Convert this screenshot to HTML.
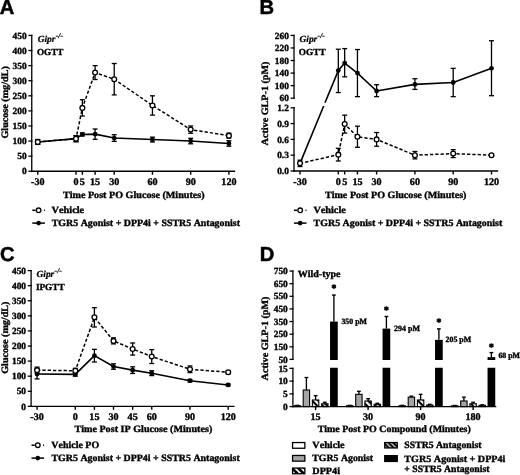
<!DOCTYPE html>
<html><head><meta charset="utf-8"><title>Figure</title>
<style>
html,body{margin:0;padding:0;background:#fff;}
svg{display:block;}
svg text{font-family:"Liberation Serif",serif;font-weight:bold;fill:#000;stroke:#000;stroke-width:0.36px;font-kerning:none;text-rendering:geometricPrecision;}
svg text.pl{font-family:"Liberation Sans",sans-serif;stroke-width:0.5px;}
</style></head>
<body>
<svg width="520" height="475" viewBox="0 0 520 475">
<rect width="520" height="475" fill="#fff"/>
<text x="-0.3" y="14.1" class="pl" font-size="20.2">A</text>
<line x1="31.75" y1="34.80" x2="31.75" y2="171.90" stroke="#000" stroke-width="1.3" />
<line x1="28.35" y1="171.25" x2="32.40" y2="171.25" stroke="#000" stroke-width="1.3" />
<text x="26.65" y="174.40" font-size="9.4" text-anchor="end" >0</text>
<line x1="28.35" y1="156.16" x2="32.40" y2="156.16" stroke="#000" stroke-width="1.3" />
<text x="26.65" y="159.31" font-size="9.4" text-anchor="end" >50</text>
<line x1="28.35" y1="141.07" x2="32.40" y2="141.07" stroke="#000" stroke-width="1.3" />
<text x="26.65" y="144.22" font-size="9.4" text-anchor="end" >100</text>
<line x1="28.35" y1="125.98" x2="32.40" y2="125.98" stroke="#000" stroke-width="1.3" />
<text x="26.65" y="129.13" font-size="9.4" text-anchor="end" >150</text>
<line x1="28.35" y1="110.89" x2="32.40" y2="110.89" stroke="#000" stroke-width="1.3" />
<text x="26.65" y="114.04" font-size="9.4" text-anchor="end" >200</text>
<line x1="28.35" y1="95.81" x2="32.40" y2="95.81" stroke="#000" stroke-width="1.3" />
<text x="26.65" y="98.96" font-size="9.4" text-anchor="end" >250</text>
<line x1="28.35" y1="80.72" x2="32.40" y2="80.72" stroke="#000" stroke-width="1.3" />
<text x="26.65" y="83.87" font-size="9.4" text-anchor="end" >300</text>
<line x1="28.35" y1="65.63" x2="32.40" y2="65.63" stroke="#000" stroke-width="1.3" />
<text x="26.65" y="68.78" font-size="9.4" text-anchor="end" >350</text>
<line x1="28.35" y1="50.54" x2="32.40" y2="50.54" stroke="#000" stroke-width="1.3" />
<text x="26.65" y="53.69" font-size="9.4" text-anchor="end" >400</text>
<line x1="28.35" y1="35.45" x2="32.40" y2="35.45" stroke="#000" stroke-width="1.3" />
<text x="26.65" y="38.60" font-size="9.4" text-anchor="end" >450</text>
<line x1="31.10" y1="171.25" x2="235.20" y2="171.25" stroke="#000" stroke-width="1.3" />
<line x1="37.77" y1="171.25" x2="37.77" y2="174.75" stroke="#000" stroke-width="1.4" />
<text x="37.77" y="184.50" font-size="10.1" text-anchor="middle" >-30</text>
<line x1="76.00" y1="171.25" x2="76.00" y2="174.75" stroke="#000" stroke-width="1.4" />
<text x="76.00" y="184.50" font-size="10.1" text-anchor="middle" >0</text>
<line x1="82.37" y1="171.25" x2="82.37" y2="174.75" stroke="#000" stroke-width="1.4" />
<text x="82.37" y="184.50" font-size="10.1" text-anchor="middle" >5</text>
<line x1="95.11" y1="171.25" x2="95.11" y2="174.75" stroke="#000" stroke-width="1.4" />
<text x="95.11" y="184.50" font-size="10.1" text-anchor="middle" >15</text>
<line x1="114.22" y1="171.25" x2="114.22" y2="174.75" stroke="#000" stroke-width="1.4" />
<text x="114.22" y="184.50" font-size="10.1" text-anchor="middle" >30</text>
<line x1="152.45" y1="171.25" x2="152.45" y2="174.75" stroke="#000" stroke-width="1.4" />
<text x="152.45" y="184.50" font-size="10.1" text-anchor="middle" >60</text>
<line x1="190.68" y1="171.25" x2="190.68" y2="174.75" stroke="#000" stroke-width="1.4" />
<text x="190.68" y="184.50" font-size="10.1" text-anchor="middle" >90</text>
<line x1="228.90" y1="171.25" x2="228.90" y2="174.75" stroke="#000" stroke-width="1.4" />
<text x="228.90" y="184.50" font-size="10.1" text-anchor="middle" >120</text>
<line x1="37.77" y1="144.39" x2="37.77" y2="139.56" stroke="#000" stroke-width="1.3" />
<line x1="35.27" y1="144.39" x2="40.27" y2="144.39" stroke="#000" stroke-width="1.3" />
<line x1="35.27" y1="139.56" x2="40.27" y2="139.56" stroke="#000" stroke-width="1.3" />
<line x1="76.00" y1="141.68" x2="76.00" y2="135.64" stroke="#000" stroke-width="1.3" />
<line x1="73.50" y1="141.68" x2="78.50" y2="141.68" stroke="#000" stroke-width="1.3" />
<line x1="73.50" y1="135.64" x2="78.50" y2="135.64" stroke="#000" stroke-width="1.3" />
<line x1="82.37" y1="116.02" x2="82.37" y2="99.73" stroke="#000" stroke-width="1.3" />
<line x1="79.87" y1="116.02" x2="84.87" y2="116.02" stroke="#000" stroke-width="1.3" />
<line x1="79.87" y1="99.73" x2="84.87" y2="99.73" stroke="#000" stroke-width="1.3" />
<line x1="95.11" y1="79.51" x2="95.11" y2="65.63" stroke="#000" stroke-width="1.3" />
<line x1="92.61" y1="79.51" x2="97.61" y2="79.51" stroke="#000" stroke-width="1.3" />
<line x1="92.61" y1="65.63" x2="97.61" y2="65.63" stroke="#000" stroke-width="1.3" />
<line x1="114.22" y1="94.90" x2="114.22" y2="63.52" stroke="#000" stroke-width="1.3" />
<line x1="111.72" y1="94.90" x2="116.72" y2="94.90" stroke="#000" stroke-width="1.3" />
<line x1="111.72" y1="63.52" x2="116.72" y2="63.52" stroke="#000" stroke-width="1.3" />
<line x1="152.45" y1="115.12" x2="152.45" y2="95.81" stroke="#000" stroke-width="1.3" />
<line x1="149.95" y1="115.12" x2="154.95" y2="115.12" stroke="#000" stroke-width="1.3" />
<line x1="149.95" y1="95.81" x2="154.95" y2="95.81" stroke="#000" stroke-width="1.3" />
<line x1="190.68" y1="133.23" x2="190.68" y2="125.98" stroke="#000" stroke-width="1.3" />
<line x1="188.18" y1="133.23" x2="193.18" y2="133.23" stroke="#000" stroke-width="1.3" />
<line x1="188.18" y1="125.98" x2="193.18" y2="125.98" stroke="#000" stroke-width="1.3" />
<line x1="228.90" y1="138.05" x2="228.90" y2="133.23" stroke="#000" stroke-width="1.3" />
<line x1="226.40" y1="138.05" x2="231.40" y2="138.05" stroke="#000" stroke-width="1.3" />
<line x1="226.40" y1="133.23" x2="231.40" y2="133.23" stroke="#000" stroke-width="1.3" />
<line x1="37.77" y1="144.39" x2="37.77" y2="139.56" stroke="#000" stroke-width="1.3" />
<line x1="35.27" y1="144.39" x2="40.27" y2="144.39" stroke="#000" stroke-width="1.3" />
<line x1="35.27" y1="139.56" x2="40.27" y2="139.56" stroke="#000" stroke-width="1.3" />
<line x1="76.00" y1="141.68" x2="76.00" y2="135.64" stroke="#000" stroke-width="1.3" />
<line x1="73.50" y1="141.68" x2="78.50" y2="141.68" stroke="#000" stroke-width="1.3" />
<line x1="73.50" y1="135.64" x2="78.50" y2="135.64" stroke="#000" stroke-width="1.3" />
<line x1="82.37" y1="135.94" x2="82.37" y2="132.92" stroke="#000" stroke-width="1.3" />
<line x1="79.87" y1="135.94" x2="84.87" y2="135.94" stroke="#000" stroke-width="1.3" />
<line x1="79.87" y1="132.92" x2="84.87" y2="132.92" stroke="#000" stroke-width="1.3" />
<line x1="95.11" y1="139.26" x2="95.11" y2="129.00" stroke="#000" stroke-width="1.3" />
<line x1="92.61" y1="139.26" x2="97.61" y2="139.26" stroke="#000" stroke-width="1.3" />
<line x1="92.61" y1="129.00" x2="97.61" y2="129.00" stroke="#000" stroke-width="1.3" />
<line x1="114.22" y1="141.37" x2="114.22" y2="134.73" stroke="#000" stroke-width="1.3" />
<line x1="111.72" y1="141.37" x2="116.72" y2="141.37" stroke="#000" stroke-width="1.3" />
<line x1="111.72" y1="134.73" x2="116.72" y2="134.73" stroke="#000" stroke-width="1.3" />
<line x1="152.45" y1="141.98" x2="152.45" y2="137.15" stroke="#000" stroke-width="1.3" />
<line x1="149.95" y1="141.98" x2="154.95" y2="141.98" stroke="#000" stroke-width="1.3" />
<line x1="149.95" y1="137.15" x2="154.95" y2="137.15" stroke="#000" stroke-width="1.3" />
<line x1="190.68" y1="143.79" x2="190.68" y2="138.36" stroke="#000" stroke-width="1.3" />
<line x1="188.18" y1="143.79" x2="193.18" y2="143.79" stroke="#000" stroke-width="1.3" />
<line x1="188.18" y1="138.36" x2="193.18" y2="138.36" stroke="#000" stroke-width="1.3" />
<line x1="228.90" y1="146.20" x2="228.90" y2="140.77" stroke="#000" stroke-width="1.3" />
<line x1="226.40" y1="146.20" x2="231.40" y2="146.20" stroke="#000" stroke-width="1.3" />
<line x1="226.40" y1="140.77" x2="231.40" y2="140.77" stroke="#000" stroke-width="1.3" />
<polyline points="37.77,141.98 76.00,138.66 82.37,107.88 95.11,72.57 114.22,79.21 152.45,105.46 190.68,129.60 228.90,135.64" fill="none" stroke="#000" stroke-width="1.5" stroke-dasharray="3.3 2.0" stroke-linejoin="round"/>
<polyline points="37.77,141.98 76.00,138.66 82.37,134.43 95.11,134.13 114.22,138.05 152.45,139.56 190.68,141.07 228.90,143.49" fill="none" stroke="#000" stroke-width="1.6" stroke-linejoin="round"/>
<circle cx="37.77" cy="141.98" r="2.4" fill="#000"/>
<circle cx="76.00" cy="138.66" r="2.4" fill="#000"/>
<circle cx="82.37" cy="134.43" r="2.4" fill="#000"/>
<circle cx="95.11" cy="134.13" r="2.4" fill="#000"/>
<circle cx="114.22" cy="138.05" r="2.4" fill="#000"/>
<circle cx="152.45" cy="139.56" r="2.4" fill="#000"/>
<circle cx="190.68" cy="141.07" r="2.4" fill="#000"/>
<circle cx="228.90" cy="143.49" r="2.4" fill="#000"/>
<circle cx="37.77" cy="141.98" r="2.4" fill="#fff" stroke="#000" stroke-width="1.3"/>
<circle cx="76.00" cy="138.66" r="2.4" fill="#fff" stroke="#000" stroke-width="1.3"/>
<circle cx="82.37" cy="107.88" r="2.4" fill="#fff" stroke="#000" stroke-width="1.3"/>
<circle cx="95.11" cy="72.57" r="2.4" fill="#fff" stroke="#000" stroke-width="1.3"/>
<circle cx="114.22" cy="79.21" r="2.4" fill="#fff" stroke="#000" stroke-width="1.3"/>
<circle cx="152.45" cy="105.46" r="2.4" fill="#fff" stroke="#000" stroke-width="1.3"/>
<circle cx="190.68" cy="129.60" r="2.4" fill="#fff" stroke="#000" stroke-width="1.3"/>
<circle cx="228.90" cy="135.64" r="2.4" fill="#fff" stroke="#000" stroke-width="1.3"/>
<text transform="translate(7.70,102.40) rotate(-90)" font-size="9.7" text-anchor="middle" textLength="72.30" lengthAdjust="spacingAndGlyphs">Glucose (mg/dL)</text>
<text x="37.70" y="41.70" font-size="9.4" font-style="italic" style="stroke-width:0.22px">Gipr<tspan font-size="7.6" dx="0.4" dy="-3.4">-/-</tspan></text>
<text x="36.90" y="54.60" font-size="9.3" text-anchor="start" textLength="26.50" lengthAdjust="spacingAndGlyphs" >OGTT</text>
<text x="62.90" y="198.40" font-size="9.7" text-anchor="start" textLength="141.70" lengthAdjust="spacingAndGlyphs" >Time Post PO Glucose (Minutes)</text>
<line x1="32.30" y1="210.30" x2="35.60" y2="210.30" stroke="#000" stroke-width="1.5" />
<line x1="43.90" y1="210.30" x2="44.90" y2="210.30" stroke="#000" stroke-width="1.5" />
<circle cx="38.60" cy="210.30" r="2.3" fill="#fff" stroke="#000" stroke-width="1.3"/>
<text x="51.60" y="213.40" font-size="9.7" text-anchor="start" textLength="32.60" lengthAdjust="spacingAndGlyphs" >Vehicle</text>
<line x1="32.30" y1="223.10" x2="44.90" y2="223.10" stroke="#000" stroke-width="1.5" />
<circle cx="38.60" cy="223.10" r="2.3" fill="#000"/>
<text x="51.70" y="225.80" font-size="9.7" text-anchor="start" textLength="188.30" lengthAdjust="spacingAndGlyphs" >TGR5 Agonist + DPP4i + SSTR5 Antagonist</text>
<text x="0.1" y="260.8" class="pl" font-size="20.2">C</text>
<line x1="31.10" y1="269.95" x2="31.10" y2="407.00" stroke="#000" stroke-width="1.3" />
<line x1="27.70" y1="406.35" x2="31.75" y2="406.35" stroke="#000" stroke-width="1.3" />
<text x="26.00" y="409.50" font-size="9.4" text-anchor="end" >0</text>
<line x1="27.70" y1="391.27" x2="31.75" y2="391.27" stroke="#000" stroke-width="1.3" />
<text x="26.00" y="394.42" font-size="9.4" text-anchor="end" >50</text>
<line x1="27.70" y1="376.18" x2="31.75" y2="376.18" stroke="#000" stroke-width="1.3" />
<text x="26.00" y="379.33" font-size="9.4" text-anchor="end" >100</text>
<line x1="27.70" y1="361.10" x2="31.75" y2="361.10" stroke="#000" stroke-width="1.3" />
<text x="26.00" y="364.25" font-size="9.4" text-anchor="end" >150</text>
<line x1="27.70" y1="346.02" x2="31.75" y2="346.02" stroke="#000" stroke-width="1.3" />
<text x="26.00" y="349.17" font-size="9.4" text-anchor="end" >200</text>
<line x1="27.70" y1="330.93" x2="31.75" y2="330.93" stroke="#000" stroke-width="1.3" />
<text x="26.00" y="334.08" font-size="9.4" text-anchor="end" >250</text>
<line x1="27.70" y1="315.85" x2="31.75" y2="315.85" stroke="#000" stroke-width="1.3" />
<text x="26.00" y="319.00" font-size="9.4" text-anchor="end" >300</text>
<line x1="27.70" y1="300.77" x2="31.75" y2="300.77" stroke="#000" stroke-width="1.3" />
<text x="26.00" y="303.92" font-size="9.4" text-anchor="end" >350</text>
<line x1="27.70" y1="285.68" x2="31.75" y2="285.68" stroke="#000" stroke-width="1.3" />
<text x="26.00" y="288.83" font-size="9.4" text-anchor="end" >400</text>
<line x1="27.70" y1="270.60" x2="31.75" y2="270.60" stroke="#000" stroke-width="1.3" />
<text x="26.00" y="273.75" font-size="9.4" text-anchor="end" >450</text>
<line x1="30.45" y1="406.35" x2="234.50" y2="406.35" stroke="#000" stroke-width="1.3" />
<line x1="37.08" y1="406.35" x2="37.08" y2="409.85" stroke="#000" stroke-width="1.4" />
<text x="37.08" y="419.60" font-size="10.1" text-anchor="middle" >-30</text>
<line x1="75.30" y1="406.35" x2="75.30" y2="409.85" stroke="#000" stroke-width="1.4" />
<text x="75.30" y="419.60" font-size="10.1" text-anchor="middle" >0</text>
<line x1="94.41" y1="406.35" x2="94.41" y2="409.85" stroke="#000" stroke-width="1.4" />
<text x="94.41" y="419.60" font-size="10.1" text-anchor="middle" >15</text>
<line x1="113.52" y1="406.35" x2="113.52" y2="409.85" stroke="#000" stroke-width="1.4" />
<text x="113.52" y="419.60" font-size="10.1" text-anchor="middle" >30</text>
<line x1="132.64" y1="406.35" x2="132.64" y2="409.85" stroke="#000" stroke-width="1.4" />
<text x="132.64" y="419.60" font-size="10.1" text-anchor="middle" >45</text>
<line x1="151.75" y1="406.35" x2="151.75" y2="409.85" stroke="#000" stroke-width="1.4" />
<text x="151.75" y="419.60" font-size="10.1" text-anchor="middle" >60</text>
<line x1="189.97" y1="406.35" x2="189.97" y2="409.85" stroke="#000" stroke-width="1.4" />
<text x="189.97" y="419.60" font-size="10.1" text-anchor="middle" >90</text>
<line x1="228.20" y1="406.35" x2="228.20" y2="409.85" stroke="#000" stroke-width="1.4" />
<text x="228.20" y="419.60" font-size="10.1" text-anchor="middle" >120</text>
<line x1="37.08" y1="373.17" x2="37.08" y2="367.13" stroke="#000" stroke-width="1.3" />
<line x1="34.58" y1="373.17" x2="39.58" y2="373.17" stroke="#000" stroke-width="1.3" />
<line x1="34.58" y1="367.13" x2="39.58" y2="367.13" stroke="#000" stroke-width="1.3" />
<line x1="75.30" y1="373.17" x2="75.30" y2="368.34" stroke="#000" stroke-width="1.3" />
<line x1="72.80" y1="373.17" x2="77.80" y2="373.17" stroke="#000" stroke-width="1.3" />
<line x1="72.80" y1="368.34" x2="77.80" y2="368.34" stroke="#000" stroke-width="1.3" />
<line x1="94.41" y1="327.01" x2="94.41" y2="307.71" stroke="#000" stroke-width="1.3" />
<line x1="91.91" y1="327.01" x2="96.91" y2="327.01" stroke="#000" stroke-width="1.3" />
<line x1="91.91" y1="307.71" x2="96.91" y2="307.71" stroke="#000" stroke-width="1.3" />
<line x1="113.52" y1="343.91" x2="113.52" y2="337.87" stroke="#000" stroke-width="1.3" />
<line x1="111.02" y1="343.91" x2="116.02" y2="343.91" stroke="#000" stroke-width="1.3" />
<line x1="111.02" y1="337.87" x2="116.02" y2="337.87" stroke="#000" stroke-width="1.3" />
<line x1="132.64" y1="355.07" x2="132.64" y2="343.00" stroke="#000" stroke-width="1.3" />
<line x1="130.14" y1="355.07" x2="135.14" y2="355.07" stroke="#000" stroke-width="1.3" />
<line x1="130.14" y1="343.00" x2="135.14" y2="343.00" stroke="#000" stroke-width="1.3" />
<line x1="151.75" y1="363.51" x2="151.75" y2="349.64" stroke="#000" stroke-width="1.3" />
<line x1="149.25" y1="363.51" x2="154.25" y2="363.51" stroke="#000" stroke-width="1.3" />
<line x1="149.25" y1="349.64" x2="154.25" y2="349.64" stroke="#000" stroke-width="1.3" />
<line x1="189.97" y1="372.56" x2="189.97" y2="365.93" stroke="#000" stroke-width="1.3" />
<line x1="187.47" y1="372.56" x2="192.47" y2="372.56" stroke="#000" stroke-width="1.3" />
<line x1="187.47" y1="365.93" x2="192.47" y2="365.93" stroke="#000" stroke-width="1.3" />
<line x1="228.20" y1="373.77" x2="228.20" y2="370.75" stroke="#000" stroke-width="1.3" />
<line x1="225.70" y1="373.77" x2="230.70" y2="373.77" stroke="#000" stroke-width="1.3" />
<line x1="225.70" y1="370.75" x2="230.70" y2="370.75" stroke="#000" stroke-width="1.3" />
<line x1="37.08" y1="378.90" x2="37.08" y2="369.25" stroke="#000" stroke-width="1.3" />
<line x1="34.58" y1="378.90" x2="39.58" y2="378.90" stroke="#000" stroke-width="1.3" />
<line x1="34.58" y1="369.25" x2="39.58" y2="369.25" stroke="#000" stroke-width="1.3" />
<line x1="75.30" y1="376.18" x2="75.30" y2="372.56" stroke="#000" stroke-width="1.3" />
<line x1="72.80" y1="376.18" x2="77.80" y2="376.18" stroke="#000" stroke-width="1.3" />
<line x1="72.80" y1="372.56" x2="77.80" y2="372.56" stroke="#000" stroke-width="1.3" />
<line x1="94.41" y1="362.00" x2="94.41" y2="349.34" stroke="#000" stroke-width="1.3" />
<line x1="91.91" y1="362.00" x2="96.91" y2="362.00" stroke="#000" stroke-width="1.3" />
<line x1="91.91" y1="349.34" x2="96.91" y2="349.34" stroke="#000" stroke-width="1.3" />
<line x1="113.52" y1="369.25" x2="113.52" y2="363.81" stroke="#000" stroke-width="1.3" />
<line x1="111.02" y1="369.25" x2="116.02" y2="369.25" stroke="#000" stroke-width="1.3" />
<line x1="111.02" y1="363.81" x2="116.02" y2="363.81" stroke="#000" stroke-width="1.3" />
<line x1="132.64" y1="373.47" x2="132.64" y2="366.83" stroke="#000" stroke-width="1.3" />
<line x1="130.14" y1="373.47" x2="135.14" y2="373.47" stroke="#000" stroke-width="1.3" />
<line x1="130.14" y1="366.83" x2="135.14" y2="366.83" stroke="#000" stroke-width="1.3" />
<line x1="151.75" y1="375.58" x2="151.75" y2="370.75" stroke="#000" stroke-width="1.3" />
<line x1="149.25" y1="375.58" x2="154.25" y2="375.58" stroke="#000" stroke-width="1.3" />
<line x1="149.25" y1="370.75" x2="154.25" y2="370.75" stroke="#000" stroke-width="1.3" />
<line x1="189.97" y1="381.92" x2="189.97" y2="379.50" stroke="#000" stroke-width="1.3" />
<line x1="187.47" y1="381.92" x2="192.47" y2="381.92" stroke="#000" stroke-width="1.3" />
<line x1="187.47" y1="379.50" x2="192.47" y2="379.50" stroke="#000" stroke-width="1.3" />
<line x1="228.20" y1="385.84" x2="228.20" y2="384.03" stroke="#000" stroke-width="1.3" />
<line x1="225.70" y1="385.84" x2="230.70" y2="385.84" stroke="#000" stroke-width="1.3" />
<line x1="225.70" y1="384.03" x2="230.70" y2="384.03" stroke="#000" stroke-width="1.3" />
<polyline points="37.08,370.15 75.30,370.75 94.41,317.36 113.52,340.89 132.64,349.03 151.75,356.58 189.97,369.25 228.20,372.26" fill="none" stroke="#000" stroke-width="1.5" stroke-dasharray="3.3 2.0" stroke-linejoin="round"/>
<polyline points="37.08,374.07 75.30,374.37 94.41,355.67 113.52,366.53 132.64,370.15 151.75,373.17 189.97,380.71 228.20,384.93" fill="none" stroke="#000" stroke-width="1.6" stroke-linejoin="round"/>
<circle cx="37.08" cy="374.07" r="2.4" fill="#000"/>
<circle cx="75.30" cy="374.37" r="2.4" fill="#000"/>
<circle cx="94.41" cy="355.67" r="2.4" fill="#000"/>
<circle cx="113.52" cy="366.53" r="2.4" fill="#000"/>
<circle cx="132.64" cy="370.15" r="2.4" fill="#000"/>
<circle cx="151.75" cy="373.17" r="2.4" fill="#000"/>
<circle cx="189.97" cy="380.71" r="2.4" fill="#000"/>
<circle cx="228.20" cy="384.93" r="2.4" fill="#000"/>
<circle cx="37.08" cy="370.15" r="2.4" fill="#fff" stroke="#000" stroke-width="1.3"/>
<circle cx="75.30" cy="370.75" r="2.4" fill="#fff" stroke="#000" stroke-width="1.3"/>
<circle cx="94.41" cy="317.36" r="2.4" fill="#fff" stroke="#000" stroke-width="1.3"/>
<circle cx="113.52" cy="340.89" r="2.4" fill="#fff" stroke="#000" stroke-width="1.3"/>
<circle cx="132.64" cy="349.03" r="2.4" fill="#fff" stroke="#000" stroke-width="1.3"/>
<circle cx="151.75" cy="356.58" r="2.4" fill="#fff" stroke="#000" stroke-width="1.3"/>
<circle cx="189.97" cy="369.25" r="2.4" fill="#fff" stroke="#000" stroke-width="1.3"/>
<circle cx="228.20" cy="372.26" r="2.4" fill="#fff" stroke="#000" stroke-width="1.3"/>
<text transform="translate(7.70,337.70) rotate(-90)" font-size="9.7" text-anchor="middle" textLength="72.20" lengthAdjust="spacingAndGlyphs">Glucose (mg/dL)</text>
<text x="36.50" y="276.70" font-size="9.4" font-style="italic" style="stroke-width:0.22px">Gipr<tspan font-size="7.6" dx="0.4" dy="-3.4">-/-</tspan></text>
<text x="35.90" y="289.60" font-size="9.3" text-anchor="start" textLength="28.70" lengthAdjust="spacingAndGlyphs" >IPGTT</text>
<text x="74.40" y="432.40" font-size="9.7" text-anchor="start" textLength="137.90" lengthAdjust="spacingAndGlyphs" >Time Post IP Glucose (Minutes)</text>
<line x1="31.50" y1="445.20" x2="34.80" y2="445.20" stroke="#000" stroke-width="1.5" />
<line x1="43.10" y1="445.20" x2="44.10" y2="445.20" stroke="#000" stroke-width="1.5" />
<circle cx="37.80" cy="445.20" r="2.3" fill="#fff" stroke="#000" stroke-width="1.3"/>
<text x="51.30" y="448.30" font-size="9.7" text-anchor="start" textLength="47.90" lengthAdjust="spacingAndGlyphs" >Vehicle PO</text>
<line x1="31.50" y1="458.10" x2="44.10" y2="458.10" stroke="#000" stroke-width="1.5" />
<circle cx="37.80" cy="458.10" r="2.3" fill="#000"/>
<text x="51.50" y="461.20" font-size="9.7" text-anchor="start" textLength="188.20" lengthAdjust="spacingAndGlyphs" >TGR5 Agonist + DPP4i + SSTR5 Antagonist</text>
<text x="259.6" y="14.2" class="pl" font-size="20.2">B</text>
<line x1="294.00" y1="34.75" x2="294.00" y2="98.85" stroke="#000" stroke-width="1.3" />
<line x1="290.60" y1="98.20" x2="294.65" y2="98.20" stroke="#000" stroke-width="1.3" />
<text x="288.90" y="101.35" font-size="9.4" text-anchor="end" >60</text>
<line x1="290.60" y1="85.64" x2="294.65" y2="85.64" stroke="#000" stroke-width="1.3" />
<text x="288.90" y="88.79" font-size="9.4" text-anchor="end" >100</text>
<line x1="290.60" y1="73.08" x2="294.65" y2="73.08" stroke="#000" stroke-width="1.3" />
<text x="288.90" y="76.23" font-size="9.4" text-anchor="end" >140</text>
<line x1="290.60" y1="60.52" x2="294.65" y2="60.52" stroke="#000" stroke-width="1.3" />
<text x="288.90" y="63.67" font-size="9.4" text-anchor="end" >180</text>
<line x1="290.60" y1="47.96" x2="294.65" y2="47.96" stroke="#000" stroke-width="1.3" />
<text x="288.90" y="51.11" font-size="9.4" text-anchor="end" >220</text>
<line x1="290.60" y1="35.40" x2="294.65" y2="35.40" stroke="#000" stroke-width="1.3" />
<text x="288.90" y="38.55" font-size="9.4" text-anchor="end" >260</text>
<line x1="294.00" y1="107.11" x2="294.00" y2="171.65" stroke="#000" stroke-width="1.3" />
<line x1="290.60" y1="171.00" x2="294.65" y2="171.00" stroke="#000" stroke-width="1.3" />
<text x="288.90" y="174.15" font-size="9.4" text-anchor="end" >0.0</text>
<line x1="290.60" y1="155.19" x2="294.65" y2="155.19" stroke="#000" stroke-width="1.3" />
<text x="288.90" y="158.34" font-size="9.4" text-anchor="end" >0.3</text>
<line x1="290.60" y1="139.38" x2="294.65" y2="139.38" stroke="#000" stroke-width="1.3" />
<text x="288.90" y="142.53" font-size="9.4" text-anchor="end" >0.6</text>
<line x1="290.60" y1="123.57" x2="294.65" y2="123.57" stroke="#000" stroke-width="1.3" />
<text x="288.90" y="126.72" font-size="9.4" text-anchor="end" >0.9</text>
<line x1="290.60" y1="107.76" x2="294.65" y2="107.76" stroke="#000" stroke-width="1.3" />
<text x="288.90" y="110.91" font-size="9.4" text-anchor="end" >1.2</text>
<line x1="293.35" y1="171.00" x2="498.20" y2="171.00" stroke="#000" stroke-width="1.3" />
<line x1="300.00" y1="171.00" x2="300.00" y2="174.50" stroke="#000" stroke-width="1.4" />
<text x="300.00" y="184.50" font-size="10.1" text-anchor="middle" >-30</text>
<line x1="338.30" y1="171.00" x2="338.30" y2="174.50" stroke="#000" stroke-width="1.4" />
<text x="338.30" y="184.50" font-size="10.1" text-anchor="middle" >0</text>
<line x1="344.68" y1="171.00" x2="344.68" y2="174.50" stroke="#000" stroke-width="1.4" />
<text x="344.68" y="184.50" font-size="10.1" text-anchor="middle" >5</text>
<line x1="357.45" y1="171.00" x2="357.45" y2="174.50" stroke="#000" stroke-width="1.4" />
<text x="357.45" y="184.50" font-size="10.1" text-anchor="middle" >15</text>
<line x1="376.60" y1="171.00" x2="376.60" y2="174.50" stroke="#000" stroke-width="1.4" />
<text x="376.60" y="184.50" font-size="10.1" text-anchor="middle" >30</text>
<line x1="414.90" y1="171.00" x2="414.90" y2="174.50" stroke="#000" stroke-width="1.4" />
<text x="414.90" y="184.50" font-size="10.1" text-anchor="middle" >60</text>
<line x1="453.20" y1="171.00" x2="453.20" y2="174.50" stroke="#000" stroke-width="1.4" />
<text x="453.20" y="184.50" font-size="10.1" text-anchor="middle" >90</text>
<line x1="491.50" y1="171.00" x2="491.50" y2="174.50" stroke="#000" stroke-width="1.4" />
<text x="491.50" y="184.50" font-size="10.1" text-anchor="middle" >120</text>
<text transform="translate(267.90,103.50) rotate(-90)" font-size="9.7" text-anchor="middle" textLength="83.80" lengthAdjust="spacingAndGlyphs">Active GLP-1 (pM)</text>
<text x="299.50" y="41.70" font-size="9.4" font-style="italic" style="stroke-width:0.22px">Gipr<tspan font-size="7.6" dx="0.4" dy="-3.4">-/-</tspan></text>
<text x="298.80" y="54.60" font-size="9.3" text-anchor="start" textLength="26.80" lengthAdjust="spacingAndGlyphs" >OGTT</text>
<text x="324.90" y="198.40" font-size="9.7" text-anchor="start" textLength="141.60" lengthAdjust="spacingAndGlyphs" >Time Post PO Glucose (Minutes)</text>
<line x1="293.90" y1="210.30" x2="297.20" y2="210.30" stroke="#000" stroke-width="1.5" />
<line x1="305.50" y1="210.30" x2="306.50" y2="210.30" stroke="#000" stroke-width="1.5" />
<circle cx="300.20" cy="210.30" r="2.3" fill="#fff" stroke="#000" stroke-width="1.3"/>
<text x="313.40" y="213.40" font-size="9.7" text-anchor="start" textLength="32.40" lengthAdjust="spacingAndGlyphs" >Vehicle</text>
<line x1="293.90" y1="223.10" x2="306.50" y2="223.10" stroke="#000" stroke-width="1.5" />
<circle cx="300.20" cy="223.10" r="2.3" fill="#000"/>
<text x="313.60" y="225.80" font-size="9.7" text-anchor="start" textLength="188.70" lengthAdjust="spacingAndGlyphs" >TGR5 Agonist + DPP4i + SSTR5 Antagonist</text>
<line x1="338.30" y1="92.55" x2="338.30" y2="49.22" stroke="#000" stroke-width="1.3" />
<line x1="335.80" y1="92.55" x2="340.80" y2="92.55" stroke="#000" stroke-width="1.3" />
<line x1="335.80" y1="49.22" x2="340.80" y2="49.22" stroke="#000" stroke-width="1.3" />
<line x1="344.68" y1="76.85" x2="344.68" y2="48.59" stroke="#000" stroke-width="1.3" />
<line x1="342.18" y1="76.85" x2="347.18" y2="76.85" stroke="#000" stroke-width="1.3" />
<line x1="342.18" y1="48.59" x2="347.18" y2="48.59" stroke="#000" stroke-width="1.3" />
<line x1="357.45" y1="96.63" x2="357.45" y2="49.53" stroke="#000" stroke-width="1.3" />
<line x1="354.95" y1="96.63" x2="359.95" y2="96.63" stroke="#000" stroke-width="1.3" />
<line x1="354.95" y1="49.53" x2="359.95" y2="49.53" stroke="#000" stroke-width="1.3" />
<line x1="376.60" y1="96.63" x2="376.60" y2="84.70" stroke="#000" stroke-width="1.3" />
<line x1="374.10" y1="96.63" x2="379.10" y2="96.63" stroke="#000" stroke-width="1.3" />
<line x1="374.10" y1="84.70" x2="379.10" y2="84.70" stroke="#000" stroke-width="1.3" />
<line x1="414.90" y1="89.41" x2="414.90" y2="78.73" stroke="#000" stroke-width="1.3" />
<line x1="412.40" y1="89.41" x2="417.40" y2="89.41" stroke="#000" stroke-width="1.3" />
<line x1="412.40" y1="78.73" x2="417.40" y2="78.73" stroke="#000" stroke-width="1.3" />
<line x1="453.20" y1="96.63" x2="453.20" y2="68.37" stroke="#000" stroke-width="1.3" />
<line x1="450.70" y1="96.63" x2="455.70" y2="96.63" stroke="#000" stroke-width="1.3" />
<line x1="450.70" y1="68.37" x2="455.70" y2="68.37" stroke="#000" stroke-width="1.3" />
<line x1="491.50" y1="95.69" x2="491.50" y2="40.74" stroke="#000" stroke-width="1.3" />
<line x1="489.00" y1="95.69" x2="494.00" y2="95.69" stroke="#000" stroke-width="1.3" />
<line x1="489.00" y1="40.74" x2="494.00" y2="40.74" stroke="#000" stroke-width="1.3" />
<line x1="300.00" y1="166.52" x2="300.00" y2="160.20" stroke="#000" stroke-width="1.3" />
<line x1="297.50" y1="166.52" x2="302.50" y2="166.52" stroke="#000" stroke-width="1.3" />
<line x1="297.50" y1="160.20" x2="302.50" y2="160.20" stroke="#000" stroke-width="1.3" />
<line x1="338.30" y1="160.99" x2="338.30" y2="148.34" stroke="#000" stroke-width="1.3" />
<line x1="335.80" y1="160.99" x2="340.80" y2="160.99" stroke="#000" stroke-width="1.3" />
<line x1="335.80" y1="148.34" x2="340.80" y2="148.34" stroke="#000" stroke-width="1.3" />
<line x1="344.68" y1="133.06" x2="344.68" y2="115.14" stroke="#000" stroke-width="1.3" />
<line x1="342.18" y1="133.06" x2="347.18" y2="133.06" stroke="#000" stroke-width="1.3" />
<line x1="342.18" y1="115.14" x2="347.18" y2="115.14" stroke="#000" stroke-width="1.3" />
<line x1="357.45" y1="147.28" x2="357.45" y2="126.20" stroke="#000" stroke-width="1.3" />
<line x1="354.95" y1="147.28" x2="359.95" y2="147.28" stroke="#000" stroke-width="1.3" />
<line x1="354.95" y1="126.20" x2="359.95" y2="126.20" stroke="#000" stroke-width="1.3" />
<line x1="376.60" y1="146.23" x2="376.60" y2="132.53" stroke="#000" stroke-width="1.3" />
<line x1="374.10" y1="146.23" x2="379.10" y2="146.23" stroke="#000" stroke-width="1.3" />
<line x1="374.10" y1="132.53" x2="379.10" y2="132.53" stroke="#000" stroke-width="1.3" />
<line x1="414.90" y1="158.88" x2="414.90" y2="151.50" stroke="#000" stroke-width="1.3" />
<line x1="412.40" y1="158.88" x2="417.40" y2="158.88" stroke="#000" stroke-width="1.3" />
<line x1="412.40" y1="151.50" x2="417.40" y2="151.50" stroke="#000" stroke-width="1.3" />
<line x1="453.20" y1="157.56" x2="453.20" y2="149.66" stroke="#000" stroke-width="1.3" />
<line x1="450.70" y1="157.56" x2="455.70" y2="157.56" stroke="#000" stroke-width="1.3" />
<line x1="450.70" y1="149.66" x2="455.70" y2="149.66" stroke="#000" stroke-width="1.3" />
<polyline points="300.00,163.36 338.30,154.66 344.68,124.10 357.45,136.75 376.60,139.38 414.90,155.19 453.20,153.61 491.50,155.19" fill="none" stroke="#000" stroke-width="1.5" stroke-dasharray="3.3 2.0" stroke-linejoin="round"/>
<polyline points="338.30,70.57 344.68,63.03 357.45,73.08 376.60,90.98 414.90,84.38 453.20,82.50 491.50,68.37" fill="none" stroke="#000" stroke-width="1.6" stroke-linejoin="round"/>
<line x1="300.00" y1="163.36" x2="323.67" y2="106.00" stroke="#000" stroke-width="1.6" />
<line x1="325.00" y1="102.80" x2="338.30" y2="70.57" stroke="#000" stroke-width="1.6" />
<circle cx="338.30" cy="70.57" r="2.4" fill="#000"/>
<circle cx="344.68" cy="63.03" r="2.4" fill="#000"/>
<circle cx="357.45" cy="73.08" r="2.4" fill="#000"/>
<circle cx="376.60" cy="90.98" r="2.4" fill="#000"/>
<circle cx="414.90" cy="84.38" r="2.4" fill="#000"/>
<circle cx="453.20" cy="82.50" r="2.4" fill="#000"/>
<circle cx="491.50" cy="68.37" r="2.4" fill="#000"/>
<circle cx="300.00" cy="163.36" r="2.4" fill="#fff" stroke="#000" stroke-width="1.3"/>
<circle cx="338.30" cy="154.66" r="2.4" fill="#fff" stroke="#000" stroke-width="1.3"/>
<circle cx="344.68" cy="124.10" r="2.4" fill="#fff" stroke="#000" stroke-width="1.3"/>
<circle cx="357.45" cy="136.75" r="2.4" fill="#fff" stroke="#000" stroke-width="1.3"/>
<circle cx="376.60" cy="139.38" r="2.4" fill="#fff" stroke="#000" stroke-width="1.3"/>
<circle cx="414.90" cy="155.19" r="2.4" fill="#fff" stroke="#000" stroke-width="1.3"/>
<circle cx="453.20" cy="153.61" r="2.4" fill="#fff" stroke="#000" stroke-width="1.3"/>
<circle cx="491.50" cy="155.19" r="2.4" fill="#fff" stroke="#000" stroke-width="1.3"/>
<text x="259.7" y="261.1" class="pl" font-size="20.2">D</text>
<line x1="292.90" y1="270.41" x2="292.90" y2="360.05" stroke="#000" stroke-width="1.3" />
<line x1="289.50" y1="359.40" x2="293.55" y2="359.40" stroke="#000" stroke-width="1.3" />
<text x="287.80" y="362.55" font-size="9.4" text-anchor="end" >50</text>
<line x1="289.50" y1="346.78" x2="293.55" y2="346.78" stroke="#000" stroke-width="1.3" />
<text x="287.80" y="349.93" font-size="9.4" text-anchor="end" >150</text>
<line x1="289.50" y1="334.16" x2="293.55" y2="334.16" stroke="#000" stroke-width="1.3" />
<text x="287.80" y="337.31" font-size="9.4" text-anchor="end" >250</text>
<line x1="289.50" y1="321.54" x2="293.55" y2="321.54" stroke="#000" stroke-width="1.3" />
<text x="287.80" y="324.69" font-size="9.4" text-anchor="end" >350</text>
<line x1="289.50" y1="308.92" x2="293.55" y2="308.92" stroke="#000" stroke-width="1.3" />
<text x="287.80" y="312.07" font-size="9.4" text-anchor="end" >450</text>
<line x1="289.50" y1="296.30" x2="293.55" y2="296.30" stroke="#000" stroke-width="1.3" />
<text x="287.80" y="299.45" font-size="9.4" text-anchor="end" >550</text>
<line x1="289.50" y1="283.68" x2="293.55" y2="283.68" stroke="#000" stroke-width="1.3" />
<text x="287.80" y="286.83" font-size="9.4" text-anchor="end" >650</text>
<line x1="289.50" y1="271.06" x2="293.55" y2="271.06" stroke="#000" stroke-width="1.3" />
<text x="287.80" y="274.21" font-size="9.4" text-anchor="end" >750</text>
<line x1="292.90" y1="367.70" x2="292.90" y2="407.25" stroke="#000" stroke-width="1.3" />
<line x1="289.50" y1="406.60" x2="293.55" y2="406.60" stroke="#000" stroke-width="1.3" />
<text x="287.80" y="409.75" font-size="9.4" text-anchor="end" >0</text>
<line x1="289.50" y1="393.85" x2="293.55" y2="393.85" stroke="#000" stroke-width="1.3" />
<text x="287.80" y="397.00" font-size="9.4" text-anchor="end" >5</text>
<line x1="289.50" y1="381.10" x2="293.55" y2="381.10" stroke="#000" stroke-width="1.3" />
<text x="287.80" y="384.25" font-size="9.4" text-anchor="end" >10</text>
<line x1="289.50" y1="368.35" x2="293.55" y2="368.35" stroke="#000" stroke-width="1.3" />
<text x="287.80" y="371.50" font-size="9.4" text-anchor="end" >15</text>
<line x1="292.25" y1="406.60" x2="496.30" y2="406.60" stroke="#000" stroke-width="1.3" />
<line x1="315.60" y1="406.60" x2="315.60" y2="410.10" stroke="#000" stroke-width="1.4" />
<text x="315.60" y="419.60" font-size="10.1" text-anchor="middle" >15</text>
<line x1="368.10" y1="406.60" x2="368.10" y2="410.10" stroke="#000" stroke-width="1.4" />
<text x="368.10" y="419.60" font-size="10.1" text-anchor="middle" >30</text>
<line x1="420.60" y1="406.60" x2="420.60" y2="410.10" stroke="#000" stroke-width="1.4" />
<text x="420.60" y="419.60" font-size="10.1" text-anchor="middle" >90</text>
<line x1="473.10" y1="406.60" x2="473.10" y2="410.10" stroke="#000" stroke-width="1.4" />
<text x="473.10" y="419.60" font-size="10.1" text-anchor="middle" >180</text>
<text transform="translate(267.90,338.50) rotate(-90)" font-size="9.7" text-anchor="middle" textLength="83.80" lengthAdjust="spacingAndGlyphs">Active GLP-1 (pM)</text>
<text x="297.70" y="276.90" font-size="9.7" text-anchor="start" textLength="42.80" lengthAdjust="spacingAndGlyphs" >Wild-type</text>
<text x="317.70" y="432.40" font-size="9.7" text-anchor="start" textLength="153.10" lengthAdjust="spacingAndGlyphs" >Time Post PO Compound (Minutes)</text>
<defs>
<pattern id="h1" width="4.4" height="4.4" patternUnits="userSpaceOnUse" patternTransform="rotate(45)"><rect width="4.4" height="4.4" fill="#fff"/><rect width="4.4" height="2.1" fill="#000"/></pattern>
<pattern id="h2" width="3.4" height="3.4" patternUnits="userSpaceOnUse" patternTransform="rotate(45)"><rect width="3.4" height="3.4" fill="#ccc"/><rect width="3.4" height="2.0" fill="#000"/></pattern>
<pattern id="h1L" width="4.4" height="4.4" patternUnits="userSpaceOnUse" patternTransform="rotate(45)"><rect width="4.4" height="4.4" fill="#fff"/><rect width="4.4" height="2.6" fill="#000"/></pattern>
</defs>
<line x1="297.20" y1="405.33" x2="297.20" y2="405.71" stroke="#000" stroke-width="1.35" />
<line x1="295.30" y1="405.33" x2="299.10" y2="405.33" stroke="#000" stroke-width="1.35" />
<rect x="294.00" y="405.71" width="6.4" height="0.89" fill="#fff" stroke="#000" stroke-width="1.1"/>
<line x1="306.40" y1="377.53" x2="306.40" y2="390.03" stroke="#000" stroke-width="1.35" />
<line x1="304.50" y1="377.53" x2="308.30" y2="377.53" stroke="#000" stroke-width="1.35" />
<rect x="303.20" y="390.03" width="6.4" height="16.57" fill="#a4a4a4" stroke="#000" stroke-width="1.1"/>
<line x1="315.60" y1="395.64" x2="315.60" y2="399.97" stroke="#000" stroke-width="1.35" />
<line x1="313.70" y1="395.64" x2="317.50" y2="395.64" stroke="#000" stroke-width="1.35" />
<rect x="312.40" y="399.97" width="6.4" height="6.63" fill="url(#h1)" stroke="#000" stroke-width="1.1"/>
<line x1="324.80" y1="402.27" x2="324.80" y2="403.80" stroke="#000" stroke-width="1.35" />
<line x1="322.90" y1="402.27" x2="326.70" y2="402.27" stroke="#000" stroke-width="1.35" />
<rect x="321.60" y="403.80" width="6.4" height="2.81" fill="url(#h2)" stroke="#000" stroke-width="1.1"/>
<line x1="333.90" y1="295.04" x2="333.90" y2="321.54" stroke="#000" stroke-width="1.35" />
<line x1="332.00" y1="295.04" x2="335.80" y2="295.04" stroke="#000" stroke-width="1.35" />
<rect x="330.05" y="321.54" width="7.7" height="38.46" fill="#000"/>
<rect x="330.05" y="367.75" width="7.7" height="38.85" fill="#000"/>
<text x="333.90" y="291.00" font-size="9.5" text-anchor="middle" style="stroke-width:0.7px">*</text>
<text x="341.40" y="323.70" font-size="8.1" text-anchor="start" textLength="25.60" lengthAdjust="spacingAndGlyphs" >350 pM</text>
<line x1="349.70" y1="405.33" x2="349.70" y2="405.71" stroke="#000" stroke-width="1.35" />
<line x1="347.80" y1="405.33" x2="351.60" y2="405.33" stroke="#000" stroke-width="1.35" />
<rect x="346.50" y="405.71" width="6.4" height="0.89" fill="#fff" stroke="#000" stroke-width="1.1"/>
<line x1="358.90" y1="391.30" x2="358.90" y2="394.36" stroke="#000" stroke-width="1.35" />
<line x1="357.00" y1="391.30" x2="360.80" y2="391.30" stroke="#000" stroke-width="1.35" />
<rect x="355.70" y="394.36" width="6.4" height="12.24" fill="#a4a4a4" stroke="#000" stroke-width="1.1"/>
<line x1="368.10" y1="398.70" x2="368.10" y2="400.99" stroke="#000" stroke-width="1.35" />
<line x1="366.20" y1="398.70" x2="370.00" y2="398.70" stroke="#000" stroke-width="1.35" />
<rect x="364.90" y="400.99" width="6.4" height="5.61" fill="url(#h1)" stroke="#000" stroke-width="1.1"/>
<line x1="377.30" y1="403.29" x2="377.30" y2="404.31" stroke="#000" stroke-width="1.35" />
<line x1="375.40" y1="403.29" x2="379.20" y2="403.29" stroke="#000" stroke-width="1.35" />
<rect x="374.10" y="404.31" width="6.4" height="2.30" fill="url(#h2)" stroke="#000" stroke-width="1.1"/>
<line x1="386.40" y1="316.49" x2="386.40" y2="328.61" stroke="#000" stroke-width="1.35" />
<line x1="384.50" y1="316.49" x2="388.30" y2="316.49" stroke="#000" stroke-width="1.35" />
<rect x="382.55" y="328.61" width="7.7" height="31.39" fill="#000"/>
<rect x="382.55" y="367.75" width="7.7" height="38.85" fill="#000"/>
<text x="386.40" y="312.50" font-size="9.5" text-anchor="middle" style="stroke-width:0.7px">*</text>
<text x="394.10" y="331.00" font-size="8.1" text-anchor="start" textLength="25.80" lengthAdjust="spacingAndGlyphs" >294 pM</text>
<line x1="402.20" y1="405.33" x2="402.20" y2="405.71" stroke="#000" stroke-width="1.35" />
<line x1="400.30" y1="405.33" x2="404.10" y2="405.33" stroke="#000" stroke-width="1.35" />
<rect x="399.00" y="405.71" width="6.4" height="0.89" fill="#fff" stroke="#000" stroke-width="1.1"/>
<line x1="411.40" y1="396.15" x2="411.40" y2="397.17" stroke="#000" stroke-width="1.35" />
<line x1="409.50" y1="396.15" x2="413.30" y2="396.15" stroke="#000" stroke-width="1.35" />
<rect x="408.20" y="397.17" width="6.4" height="9.44" fill="#a4a4a4" stroke="#000" stroke-width="1.1"/>
<line x1="420.60" y1="394.36" x2="420.60" y2="399.97" stroke="#000" stroke-width="1.35" />
<line x1="418.70" y1="394.36" x2="422.50" y2="394.36" stroke="#000" stroke-width="1.35" />
<rect x="417.40" y="399.97" width="6.4" height="6.63" fill="url(#h1)" stroke="#000" stroke-width="1.1"/>
<line x1="429.80" y1="404.31" x2="429.80" y2="405.07" stroke="#000" stroke-width="1.35" />
<line x1="427.90" y1="404.31" x2="431.70" y2="404.31" stroke="#000" stroke-width="1.35" />
<rect x="426.60" y="405.07" width="6.4" height="1.53" fill="url(#h2)" stroke="#000" stroke-width="1.1"/>
<line x1="438.90" y1="328.86" x2="438.90" y2="339.84" stroke="#000" stroke-width="1.35" />
<line x1="437.00" y1="328.86" x2="440.80" y2="328.86" stroke="#000" stroke-width="1.35" />
<rect x="435.05" y="339.84" width="7.7" height="20.16" fill="#000"/>
<rect x="435.05" y="367.75" width="7.7" height="38.85" fill="#000"/>
<text x="438.90" y="325.00" font-size="9.5" text-anchor="middle" style="stroke-width:0.7px">*</text>
<text x="445.60" y="341.80" font-size="8.1" text-anchor="start" textLength="25.60" lengthAdjust="spacingAndGlyphs" >205 pM</text>
<line x1="454.70" y1="405.45" x2="454.70" y2="405.84" stroke="#000" stroke-width="1.35" />
<line x1="452.80" y1="405.45" x2="456.60" y2="405.45" stroke="#000" stroke-width="1.35" />
<rect x="451.50" y="405.84" width="6.4" height="0.76" fill="#fff" stroke="#000" stroke-width="1.1"/>
<line x1="463.90" y1="397.17" x2="463.90" y2="400.99" stroke="#000" stroke-width="1.35" />
<line x1="462.00" y1="397.17" x2="465.80" y2="397.17" stroke="#000" stroke-width="1.35" />
<rect x="460.70" y="400.99" width="6.4" height="5.61" fill="#a4a4a4" stroke="#000" stroke-width="1.1"/>
<line x1="473.10" y1="402.27" x2="473.10" y2="403.80" stroke="#000" stroke-width="1.35" />
<line x1="471.20" y1="402.27" x2="475.00" y2="402.27" stroke="#000" stroke-width="1.35" />
<rect x="469.90" y="403.80" width="6.4" height="2.81" fill="url(#h1)" stroke="#000" stroke-width="1.1"/>
<line x1="482.30" y1="404.81" x2="482.30" y2="405.33" stroke="#000" stroke-width="1.35" />
<line x1="480.40" y1="404.81" x2="484.20" y2="404.81" stroke="#000" stroke-width="1.35" />
<rect x="479.10" y="405.33" width="6.4" height="1.27" fill="url(#h2)" stroke="#000" stroke-width="1.1"/>
<line x1="491.40" y1="352.59" x2="491.40" y2="357.13" stroke="#000" stroke-width="1.35" />
<line x1="489.50" y1="352.59" x2="493.30" y2="352.59" stroke="#000" stroke-width="1.35" />
<rect x="487.55" y="357.13" width="7.7" height="2.87" fill="#000"/>
<rect x="487.55" y="367.75" width="7.7" height="38.85" fill="#000"/>
<text x="491.40" y="350.30" font-size="9.5" text-anchor="middle" style="stroke-width:0.7px">*</text>
<text x="498.40" y="358.30" font-size="8.1" text-anchor="start" textLength="21.60" lengthAdjust="spacingAndGlyphs" >68 pM</text>
<rect x="292.55" y="442.55" width="12.3" height="5.7" fill="#fff" stroke="#000" stroke-width="1.3"/>
<text x="312.30" y="448.20" font-size="9.7" text-anchor="start" textLength="32.30" lengthAdjust="spacingAndGlyphs" >Vehicle</text>
<rect x="292.55" y="455.45" width="12.3" height="5.7" fill="#a4a4a4" stroke="#000" stroke-width="1.3"/>
<text x="312.30" y="461.30" font-size="9.7" text-anchor="start" textLength="60.80" lengthAdjust="spacingAndGlyphs" >TGR5 Agonist</text>
<rect x="292.55" y="468.05" width="12.3" height="5.7" fill="url(#h1L)" stroke="#000" stroke-width="1.3"/>
<text x="312.30" y="473.80" font-size="9.7" text-anchor="start" textLength="27.70" lengthAdjust="spacingAndGlyphs" >DPP4i</text>
<rect x="384.75" y="442.55" width="12.5" height="5.4" fill="url(#h2)" stroke="#000" stroke-width="1.3"/>
<text x="404.30" y="448.40" font-size="9.7" text-anchor="start" textLength="77.20" lengthAdjust="spacingAndGlyphs" >SSTR5 Antagonist</text>
<rect x="384.75" y="455.65" width="12.5" height="5.8" fill="#000" stroke="#000" stroke-width="1.3"/>
<text x="404.30" y="461.80" font-size="9.7" text-anchor="start" textLength="101.10" lengthAdjust="spacingAndGlyphs" >TGR5 Agonist + DPP4i</text>
<text x="404.30" y="472.40" font-size="9.7" text-anchor="start" textLength="85.20" lengthAdjust="spacingAndGlyphs" >+ SSTR5 Antagonist</text>
</svg>
</body></html>
